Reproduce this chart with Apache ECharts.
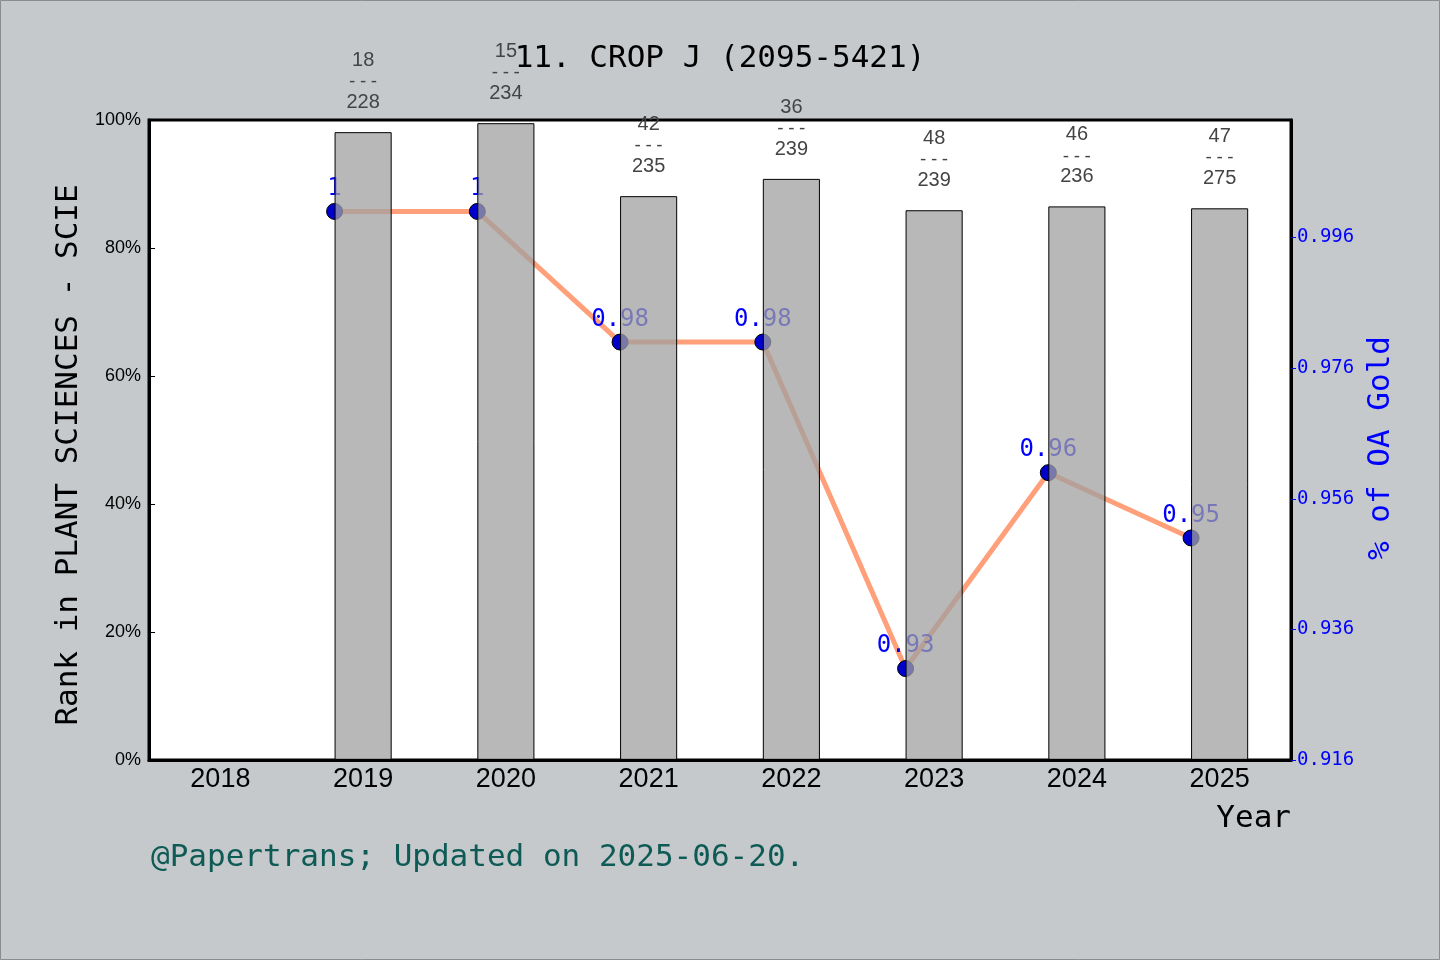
<!DOCTYPE html>
<html>
<head>
<meta charset="utf-8">
<script src="https://cdn.jsdelivr.net/npm/echarts@6/dist/echarts.min.js"></script>
<style>
html,body{margin:0;padding:0;background:#c5c9cc;}
#chart{width:1440px;height:960px;}
</style>
</head>
<body>
<div id="chart"></div>
<script>
// ---- data ----
const years = ['2018', '2019', '2020', '2021', '2022', '2023', '2024', '2025'];
const rankPercentile = [null, 0.981, 0.995, 0.881, 0.908, 0.859, 0.865, 0.862];
const ranks = [null, 18, 15, 42, 36, 48, 46, 47];
const totals = [null, 228, 234, 235, 239, 239, 236, 275];
const oaGold = [null, 1, 1, 0.98, 0.98, 0.93, 0.96, 0.95];
const rightMin = 0.916;
const rightMax = 1.014;
const rightInterval = 0.02;
const leftTicks = [0, 0.2, 0.4, 0.6, 0.8, 1];

const MONO = '"DejaVu Sans Mono", "Liberation Mono", monospace';
const SANS = '"Liberation Sans", Arial, sans-serif';

const chart = echarts.init(document.getElementById('chart'), null, {renderer: 'canvas'});

const lineData = [];
oaGold.forEach((v, i) => {
  if (v !== null) lineData.push({value: [i - 0.2, v - rightMin], orig: v});
});

const option = {
  backgroundColor: '#c5c9cc',
  animation: false,
  graphic: [{
    type: 'rect', silent: true, z: 100,
    shape: {x: 0.5, y: 0.5, width: 1439, height: 959},
    style: {fill: 'none', stroke: '#8a8d90', lineWidth: 1}
  }],
  title: [
    {
      text: '11. CROP J (2095-5421)',
      left: 'center',
      top: 38,
      textStyle: {fontFamily: MONO, fontSize: 31, fontWeight: 'normal', color: '#000'}
    },
    {
      text: '@Papertrans; Updated on 2025-06-20.',
      left: 146,
      top: 837,
      textStyle: {fontFamily: MONO, fontSize: 31, fontWeight: 'normal', color: '#0e5a55'}
    }
  ],
  grid: {
    left: 149, top: 120, width: 1142, height: 640,
    show: true, backgroundColor: '#fff', borderColor: '#000', borderWidth: 3
  },
  xAxis: [
    {
      type: 'category',
      data: years,
      boundaryGap: true,
      axisLine: {onZero: false, lineStyle: {color: '#000', width: 3}},
      axisTick: {inside: true, length: 6, lineStyle: {color: '#000', width: 1}},
      axisLabel: {fontFamily: SANS, fontSize: 27, color: '#000', margin: 6},
      name: 'Year',
      nameLocation: 'end',
      nameGap: 0,
      nameTextStyle: {fontFamily: MONO, fontSize: 31, color: '#000', align: 'right', verticalAlign: 'top', padding: [43, 0, 0, 0]}
    },
    {
      type: 'value',
      min: -0.5, max: 7.5,
      show: false
    }
  ],
  yAxis: [
    {
      type: 'value',
      min: leftTicks[0], max: leftTicks[leftTicks.length - 1], interval: 0.2,
      axisLine: {show: true, onZero: false, lineStyle: {color: '#000', width: 3}},
      axisTick: {show: true, inside: true, length: 6, lineStyle: {color: '#000', width: 1}},
      axisLabel: {fontFamily: SANS, fontSize: 18, color: '#000', margin: 8,
        formatter: v => Math.round(v * 100) + '%'},
      splitLine: {show: false},
      name: 'Rank in PLANT SCIENCES - SCIE',
      nameLocation: 'middle',
      nameGap: 64,
      nameTextStyle: {fontFamily: MONO, fontSize: 31, color: '#000', padding: [0, 30, 0, 0]}
    },
    {
      type: 'value',
      position: 'right',
      min: 0, max: +(rightMax - rightMin).toFixed(3), interval: rightInterval,
      axisLine: {show: true, onZero: false, lineStyle: {color: '#000', width: 3}},
      axisTick: {show: true, inside: false, length: 5, lineStyle: {color: '#0000ff', width: 1}},
      axisLabel: {fontFamily: MONO, fontSize: 19, color: '#0000ff', margin: 6, showMaxLabel: false,
        formatter: v => (v + rightMin).toFixed(3)},
      splitLine: {show: false},
      name: '% of OA Gold',
      nameLocation: 'middle',
      nameGap: 60,
      nameTextStyle: {fontFamily: MONO, fontSize: 31, color: '#0000ff', padding: [0, 16, 0, 0]}
    }
  ],
  series: [
    {
      type: 'line',
      xAxisIndex: 1,
      yAxisIndex: 1,
      z: 2,
      data: lineData,
      lineStyle: {color: '#ffa07a', width: 5},
      symbol: 'circle',
      symbolSize: 16,
      itemStyle: {color: '#0000cd', borderColor: '#000', borderWidth: 1},
      label: {
        show: true, position: 'top', distance: 2,
        fontFamily: MONO, fontSize: 24, color: '#0000ff',
        formatter: p => String(p.data.orig)
      }
    },
    {
      type: 'bar',
      xAxisIndex: 0,
      yAxisIndex: 0,
      z: 3,
      barWidth: '40%',
      data: rankPercentile,
      itemStyle: {color: 'rgba(160,160,160,0.75)', borderColor: '#000', borderWidth: 1},
      label: {
        show: true, position: 'top', distance: 19,
        color: '#444',
        formatter: p => '{n|' + ranks[p.dataIndex] + '}\n{d|---}\n{n|' + totals[p.dataIndex] + '}',
        rich: {
          n: {fontFamily: SANS, fontSize: 20, lineHeight: 21, color: '#444'},
          d: {fontFamily: MONO, fontSize: 18, lineHeight: 21, color: '#444'}
        }
      }
    }
  ]
};
chart.setOption(option);
</script>
</body>
</html>
